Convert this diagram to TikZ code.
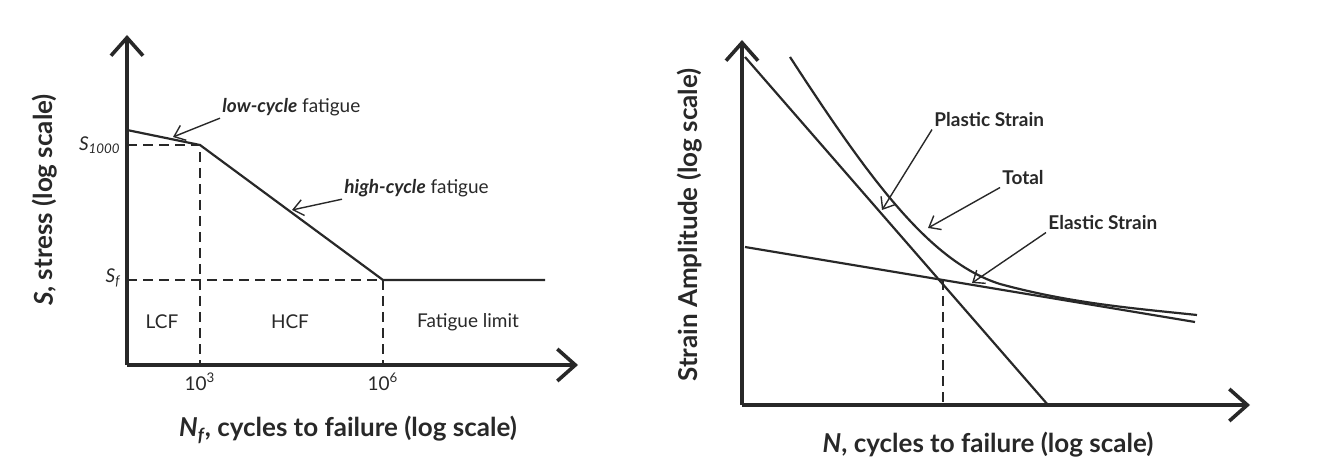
\documentclass[tikz,border=0pt]{standalone}
\usepackage{fontspec}
\setmainfont{Lato}
\usetikzlibrary{arrows.meta}
\definecolor{cdark}{RGB}{40,40,40}

\begin{document}
\begin{tikzpicture}[x=0.5pt,y=-0.5pt,
  axis/.style={draw=cdark,line width=1.8pt,-{Straight Barb[length=9pt,width=16pt,line width=1.8pt]}},
  curve/.style={draw=cdark,line width=1.1pt},
  guide/.style={draw=cdark,line width=0.9pt,dash pattern=on 5pt off 3pt},
  pointer/.style={draw=cdark,line width=0.7pt,-{Straight Barb[length=5pt,width=8pt]}},
  lbl/.style={text=cdark,font=\fontsize{9.5}{11}\selectfont,inner sep=1pt},
  axlbl/.style={text=cdark,font=\fontsize{13}{15}\bfseries\selectfont,inner sep=0pt}]
  \useasboundingbox (0,0) rectangle (1320,475);

  % left: S-N curve
  \coordinate (lo) at (127,365);
  \coordinate (ltop) at (127,35);
  \coordinate (lend) at (578,365);
  \coordinate (sa) at (127,130);
  \coordinate (sk) at (200,145);
  \coordinate (sf) at (383,280);
  \coordinate (se) at (545,280);
  \coordinate (sky) at (127,145);
  \coordinate (skx) at (200,365);
  \coordinate (sfy) at (127,280);
  \coordinate (sfx) at (383,365);
  \path[guide] (sky) -- (sk) -- (skx);
  \path[guide] (sfy) -- (sf) -- (sfx);
  \path[curve] (sa) -- (sk) -- (sf) -- (se);
  \path[axis] (lo) -- (ltop);
  \path[axis] (lo) -- (lend);
  \node[lbl,left] (s1000) at (123,145) {\itshape S\textsubscript{1000}};
  \node[lbl,left] (sfl) at (123,278) {\itshape S\textsubscript{f}};
  \node[lbl] (lcf) at (162,322) {LCF};
  \node[lbl] (hcf) at (290,322) {HCF};
  \node[lbl] (flim) at (468,322) {Fatigue limit};
  \node[lbl] (n3) at (200,382) {10\textsuperscript{3}};
  \node[lbl] (n6) at (383,382) {10\textsuperscript{6}};
  \node[lbl,right] (lowc) at (220,107) {\textbf{\itshape low-cycle} fatigue};
  \node[lbl,right] (highc) at (342,188) {\textbf{\itshape high-cycle} fatigue};
  \coordinate (lowtip) at (173,137);
  \coordinate (hightip) at (292,210);
  \path[pointer] (lowc.south west) -- (lowtip);
  \path[pointer] (highc.south west) -- (hightip);
  \node[axlbl] (lx) at (348,430) {\itshape N\textsubscript{f}\upshape, cycles to failure (log scale)};
  \node[axlbl,rotate=90] (ly) at (45,200) {\itshape S\upshape, stress (log scale)};

  % right: strain-life curve
  \coordinate (ro) at (742,405);
  \coordinate (rtop) at (742,40);
  \coordinate (rend) at (1250,405);
  \coordinate (ea) at (745,247);
  \coordinate (eb) at (1195,322);
  \coordinate (pa) at (745,57);
  \coordinate (pb) at (1048,405);
  \coordinate (tx) at (943,280);
  \coordinate (txb) at (943,405);
  \path[guide] (tx) -- (txb);
  \path[curve] (ea) -- (eb);
  \path[curve] (pa) -- (pb);
  \path[curve] (790,57) .. controls (870,180) and (930,262) .. (1000,284)
    .. controls (1070,303) and (1130,308) .. (1197,315);
  \path[axis] (ro) -- (rtop);
  \path[axis] (ro) -- (rend);
  \node[lbl,right] (plast) at (932,120) {\bfseries Plastic Strain};
  \node[lbl,right] (total) at (1000,178) {\bfseries Total};
  \node[lbl,right] (elast) at (1046,223) {\bfseries Elastic Strain};
  \coordinate (plasttip) at (882,210);
  \coordinate (totaltip) at (928,228);
  \coordinate (elasttip) at (972,283);
  \path[pointer] (plast.south west) -- (plasttip);
  \path[pointer] (total.south west) -- (totaltip);
  \path[pointer] (elast.south west) -- (elasttip);
  \node[axlbl] (rx) at (988,445) {\itshape N\upshape, cycles to failure (log scale)};
  \node[axlbl,rotate=90] (ry) at (690,225) {Strain Amplitude (log scale)};
\end{tikzpicture}
\end{document}
